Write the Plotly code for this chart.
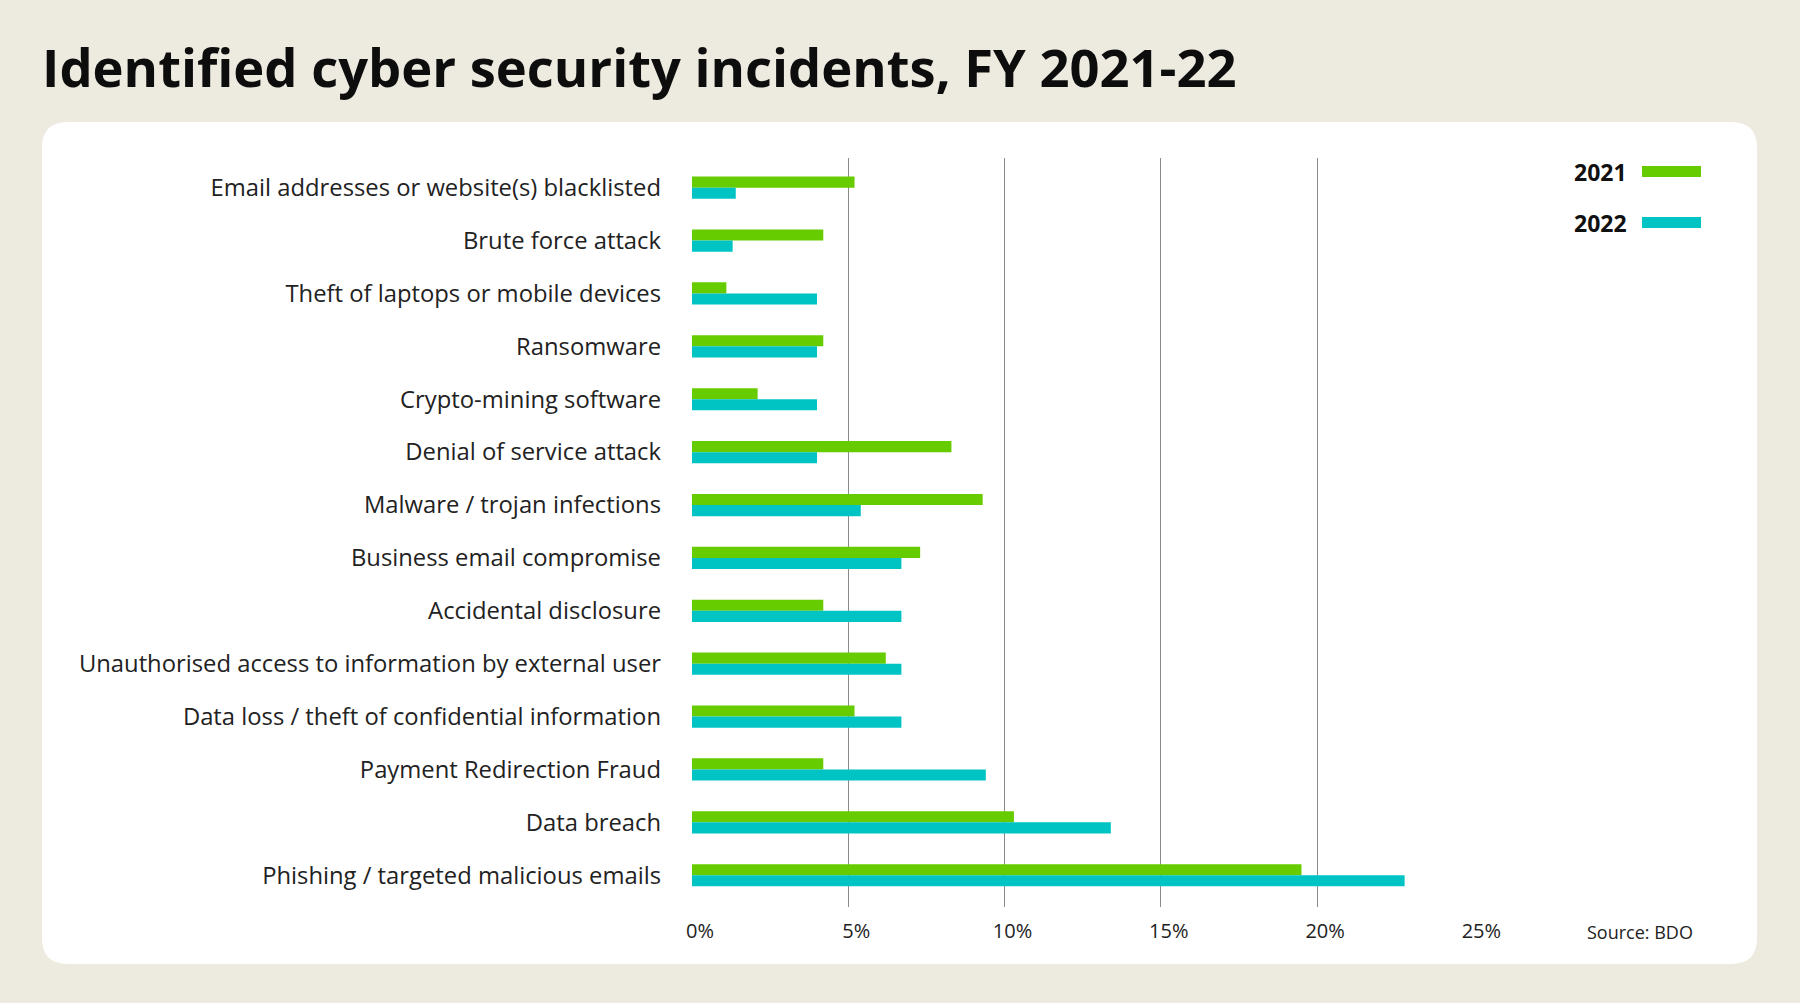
import plotly.graph_objects as go

categories = [
    "Email addresses or website(s) blacklisted",
    "Brute force attack",
    "Theft of laptops or mobile devices",
    "Ransomware",
    "Crypto-mining software",
    "Denial of service attack",
    "Malware / trojan infections",
    "Business email compromise",
    "Accidental disclosure",
    "Unauthorised access to information by external user",
    "Data loss / theft of confidential information",
    "Payment Redirection Fraud",
    "Data breach",
    "Phishing / targeted malicious emails",
]
v2021 = [5.2, 4.2, 1.1, 4.2, 2.1, 8.3, 9.3, 7.3, 4.2, 6.2, 5.2, 4.2, 10.3, 19.5]
v2022 = [1.4, 1.3, 4.0, 4.0, 4.0, 4.0, 5.4, 6.7, 6.7, 6.7, 6.7, 9.4, 13.4, 22.8]
tick_vals = [0, 5, 10, 15, 20, 25]
tick_text = ["0%", "5%", "10%", "15%", "20%", "25%"]

GREEN = "#66cc00"
TEAL = "#00c4c4"
BEIGE = "#edebe0"
FONT = "Open Sans"

W, H = 1800, 1003
L, R, T, B = 692, 326, 158, 96
pw, ph = W - L - R, H - T - B


def px(xp):
    return (xp - L) / pw


def py(yp):
    return (H - B - yp) / ph


fig = go.Figure()
fig.add_trace(go.Bar(y=categories, x=v2021, orientation="h", name="2021",
                     marker=dict(color=GREEN, line=dict(width=0))))
fig.add_trace(go.Bar(y=categories, x=v2022, orientation="h", name="2022",
                     marker=dict(color=TEAL, line=dict(width=0))))

# white rounded panel behind the chart
x0, x1, y0, y1 = px(42), px(1757), py(964), py(122)
rx, ry = 26 / pw, 26 / ph
panel = (f"M {x0+rx},{y0} L {x1-rx},{y0} Q {x1},{y0} {x1},{y0+ry} "
         f"L {x1},{y1-ry} Q {x1},{y1} {x1-rx},{y1} L {x0+rx},{y1} "
         f"Q {x0},{y1} {x0},{y1-ry} L {x0},{y0+ry} Q {x0},{y0} {x0+rx},{y0} Z")
shapes = [dict(type="path", xref="paper", yref="paper", path=panel,
               fillcolor="white", line=dict(width=0), layer="below")]

# legend drawn by hand: label then swatch
annotations = []
for name, col, yc in [("2021", GREEN, 171.5), ("2022", TEAL, 222.5)]:
    annotations.append(dict(x=px(1572), y=py(yc), xref="paper", yref="paper",
                            text=f"<b>{name}</b>", showarrow=False,
                            xanchor="left", yanchor="middle",
                            font=dict(family=FONT, size=23, color="#111")))
    shapes.append(dict(type="rect", xref="paper", yref="paper",
                       x0=px(1642), x1=px(1701), y0=py(yc + 5.5), y1=py(yc - 5.5),
                       fillcolor=col, line=dict(width=0)))

annotations.append(dict(x=px(1585), y=py(932), xref="paper", yref="paper",
                        text="Source: BDO", showarrow=False,
                        xanchor="left", yanchor="middle",
                        font=dict(family=FONT, size=18, color="#222")))

fig.update_layout(
    width=W, height=H,
    margin=dict(l=L, r=R, t=T, b=B, pad=0),
    paper_bgcolor=BEIGE,
    plot_bgcolor="rgba(0,0,0,0)",
    barmode="group",
    bargap=0.58,
    bargroupgap=0,
    showlegend=False,
    title=dict(text="<b>Identified cyber security incidents, FY 2021-22</b>",
               x=42 / W, xanchor="left", y=1 - 69 / H, yanchor="middle",
               font=dict(family=FONT, size=52.5, color="#0d0d0d")),
    font=dict(family=FONT, color="#222"),
    shapes=shapes,
    annotations=annotations,
)
fig.update_xaxes(range=[0, 25.02], tickvals=tick_vals, ticktext=tick_text,
                 showgrid=True, gridcolor="#8a8a8a", gridwidth=1,
                 zeroline=False, showline=False,
                 ticks="outside", ticklen=6, tickcolor="rgba(0,0,0,0)",
                 ticklabelshift=8,
                 tickfont=dict(family=FONT, size=20, color="#222"))
fig.update_yaxes(range=[13.6, -0.561], showgrid=False, zeroline=False,
                 showline=False, ticks="", ticklabelstandoff=30,
                 tickfont=dict(family=FONT, size=23.8, color="#222"))

fig.write_html("out.html", config={"displayModeBar": False},
               post_script="document.body.style.margin='0';"
                           "document.body.style.background='#edebe0';")
